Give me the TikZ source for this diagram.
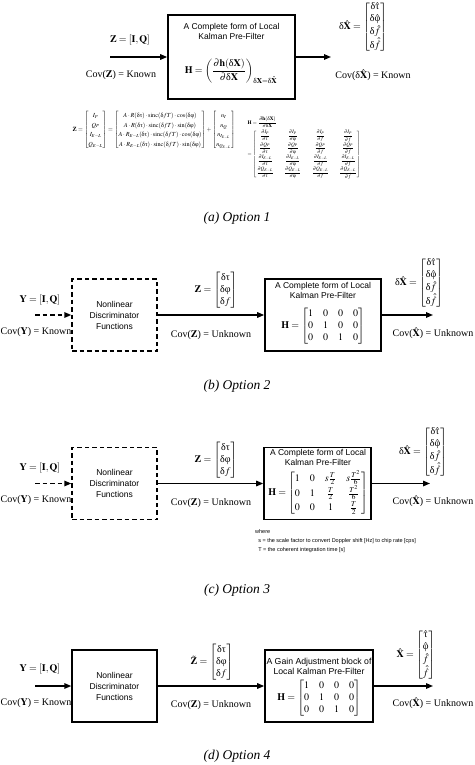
\documentclass[tikz,border=0pt]{standalone}
\usepackage{amsmath}
\usepackage{mathptmx}
\usepackage{fontspec}
\setmainfont{Liberation Serif}
\setsansfont{Liberation Sans}
\usetikzlibrary{positioning,calc,arrows.meta}
\newcommand{\udelta}{\text{δ}}
\newcommand{\utau}{\text{τ}}
\newcommand{\uphi}{\text{φ}}

\begin{document}
\begin{tikzpicture}[x=1pt, y=-1pt, >={Triangle[length=7pt,width=5.5pt]},
    every node/.style={font=\fontsize{10}{12}\selectfont},
    kblock/.style={draw, line width=1.6pt, minimum height=72pt, inner sep=0pt},
    nlblock/.style={draw, line width=1.4pt, minimum width=85pt, minimum height=72pt, align=center, font=\sffamily\fontsize{8.5}{11}\selectfont},
    dnlblock/.style={nlblock, dash pattern=on 4.5pt off 3pt},
    ttl/.style={font=\sffamily\fontsize{8.5}{10}\selectfont, align=center, inner sep=0pt},
    flow/.style={->, line width=1.4pt},
    captxt/.style={font=\itshape\fontsize{13.5}{16}\selectfont},
    tinytxt/.style={font=\fontsize{5.5}{6.5}\selectfont, inner sep=0pt}]
    \useasboundingbox (0,0) rectangle (474,765);

    \node [kblock, minimum width=127pt, minimum height=84pt] (kf1) at (231.5,57) {};
    \node [ttl] (kf1t) at (231.5,31) {A Complete form of Local\\Kalman Pre-Filter};
    \node (kf1h) at (231,71) {$\mathbf{H}=\left(\dfrac{\partial\mathbf{h}(\udelta\mathbf{X})}{\partial\udelta\mathbf{X}}\right)_{\udelta\mathbf{X}=\udelta\hat{\mathbf{X}}}$};
    \coordinate (z1) at (110,57);
    \coordinate (x1) at (331,57);
    \node (z1l) at (130,40) {$\mathbf{Z}=[\mathbf{I},\mathbf{Q}]$};
    \node (z1c) at (121,75) {Cov($\mathbf{Z}$) = Known};
    \node (x1v) at (363,27) {$\udelta\hat{\mathbf{X}}=\begin{bmatrix}\udelta\hat{\utau}\\ \udelta\hat{\uphi}\\ \udelta\hat{f}\\ \udelta\hat{\dot{f}}\end{bmatrix}$};
    \node (x1c) at (373,75) {Cov($\udelta\hat{\mathbf{X}}$) = Known};
    \node [tinytxt, font=\fontsize{6.2}{7}\selectfont] (zeq) at (154,130) {\renewcommand{\arraystretch}{1.4}$\mathbf{Z}=\begin{bmatrix}I_P\\ Q_P\\ I_{E-L}\\ Q_{E-L}\end{bmatrix}=\begin{bmatrix}A\cdot R(\udelta\utau)\cdot\operatorname{sinc}(\udelta fT)\cdot\cos(\udelta\uphi)\\ A\cdot R(\udelta\utau)\cdot\operatorname{sinc}(\udelta fT)\cdot\sin(\udelta\uphi)\\ A\cdot R_{E-L}(\udelta\utau)\cdot\operatorname{sinc}(\udelta fT)\cdot\cos(\udelta\uphi)\\ A\cdot R_{E-L}(\udelta\utau)\cdot\operatorname{sinc}(\udelta fT)\cdot\sin(\udelta\uphi)\end{bmatrix}+\begin{bmatrix}n_I\\ n_Q\\ n_{I_{E-L}}\\ n_{Q_{E-L}}\end{bmatrix}$};
    \node [tinytxt, font=\fontsize{5.2}{6}\selectfont, align=left] (heq) at (304,148) {$\mathbf{H}=\dfrac{\partial\mathbf{h}(\udelta\mathbf{X})}{\partial\udelta\mathbf{X}}$\\[1pt]
        $=\begin{bmatrix}\dfrac{\partial I_P}{\partial\utau} & \dfrac{\partial I_P}{\partial\uphi} & \dfrac{\partial I_P}{\partial f} & \dfrac{\partial I_P}{\partial\dot{f}}\\[2pt]
        \dfrac{\partial Q_P}{\partial\utau} & \dfrac{\partial Q_P}{\partial\uphi} & \dfrac{\partial Q_P}{\partial f} & \dfrac{\partial Q_P}{\partial\dot{f}}\\[2pt]
        \dfrac{\partial I_{E-L}}{\partial\utau} & \dfrac{\partial I_{E-L}}{\partial\uphi} & \dfrac{\partial I_{E-L}}{\partial f} & \dfrac{\partial I_{E-L}}{\partial\dot{f}}\\[2pt]
        \dfrac{\partial Q_{E-L}}{\partial\utau} & \dfrac{\partial Q_{E-L}}{\partial\uphi} & \dfrac{\partial Q_{E-L}}{\partial f} & \dfrac{\partial Q_{E-L}}{\partial\dot{f}}\end{bmatrix}$};
    \node [captxt] (capa) at (237,218) {(a) Option 1};
    \draw [flow] (z1) -- (kf1);
    \draw [flow] (kf1) -- (x1);

    \node [dnlblock] (nl2) at (114.5,315) {Nonlinear\\Discriminator\\Functions};
    \node [kblock, minimum width=116pt] (kf2) at (323,315) {};
    \node [ttl] (kf2t) at (323,290) {A Complete form of Local\\Kalman Pre-Filter};
    \node (kf2h) at (323,326) {$\mathbf{H}=\begin{bmatrix}1&0&0&0\\ 0&1&0&0\\ 0&0&1&0\end{bmatrix}$};
    \coordinate (y2) at (35,315);
    \coordinate (x2) at (433,315);
    \node (y2l) at (40,300) {$\mathbf{Y}=[\mathbf{I},\mathbf{Q}]$};
    \node (y2c) at (36,332) {Cov($\mathbf{Y}$) = Known};
    \node (z2v) at (216,290) {$\mathbf{Z}=\begin{bmatrix}\udelta\utau\\ \udelta\uphi\\ \udelta f\end{bmatrix}$};
    \node (z2c) at (211,335) {Cov($\mathbf{Z}$) = Unknown};
    \node (x2v) at (419,283) {$\udelta\hat{\mathbf{X}}=\begin{bmatrix}\udelta\hat{\utau}\\ \udelta\hat{\uphi}\\ \udelta\hat{f}\\ \udelta\hat{\dot{f}}\end{bmatrix}$};
    \node (x2c) at (433,333) {Cov($\hat{\mathbf{X}}$) = Unknown};
    \node [captxt] (capb) at (237,386) {(b) Option 2};
    \draw [flow, dash pattern=on 4.5pt off 3pt] (y2) -- (nl2);
    \draw [flow] (nl2) -- (kf2);
    \draw [flow] (kf2) -- (x2);

    \node [dnlblock] (nl3) at (114.5,483.5) {Nonlinear\\Discriminator\\Functions};
    \node [kblock, minimum width=107pt] (kf3) at (317.5,483.5) {};
    \node [ttl] (kf3t) at (318,457) {A Complete form of Local\\Kalman Pre-Filter};
    \node (kf3h) at (318,493) {\renewcommand{\arraystretch}{1.2}$\mathbf{H}=\begin{bmatrix}1&0&s\frac{T}{2}&s\frac{T^2}{6}\\ 0&1&\frac{T}{2}&\frac{T^2}{6}\\ 0&0&1&\frac{T}{2}\end{bmatrix}$};
    \coordinate (y3) at (35,483.5);
    \coordinate (x3) at (430,483.5);
    \node (y3l) at (40,468) {$\mathbf{Y}=[\mathbf{I},\mathbf{Q}]$};
    \node (y3c) at (36,500) {Cov($\mathbf{Y}$) = Known};
    \node (z3v) at (216,460) {$\mathbf{Z}=\begin{bmatrix}\udelta\utau\\ \udelta\uphi\\ \udelta f\end{bmatrix}$};
    \node (z3c) at (211,503) {Cov($\mathbf{Z}$) = Unknown};
    \node (x3v) at (423,452) {$\udelta\hat{\mathbf{X}}=\begin{bmatrix}\udelta\hat{\utau}\\ \udelta\hat{\uphi}\\ \udelta\hat{f}\\ \udelta\hat{\dot{f}}\end{bmatrix}$};
    \node (x3c) at (433,501) {Cov($\hat{\mathbf{X}}$) = Unknown};
    \node [tinytxt, font=\sffamily\fontsize{5.5}{9}\selectfont, align=left, anchor=north west] (wh3) at (255,529) {where\\
        \ \ s = the scale factor to convert Doppler shift [Hz] to chip rate [cps]\\
        \ \ T = the coherent integration time [s]};
    \node [captxt] (capc) at (237,590) {(c) Option 3};
    \draw [flow, dash pattern=on 4.5pt off 3pt] (y3) -- (nl3);
    \draw [flow] (nl3) -- (kf3);
    \draw [flow] (kf3) -- (x3);

    \node [nlblock] (nl4) at (114.5,686) {Nonlinear\\Discriminator\\Functions};
    \node [kblock, minimum width=108pt] (kf4) at (319,686) {};
    \node [ttl, font=\sffamily\fontsize{8.7}{10}\selectfont] (kf4t) at (319,666) {A Gain Adjustment block of\\Local Kalman Pre-Filter};
    \node (kf4h) at (319,698) {$\mathbf{H}=\begin{bmatrix}1&0&0&0\\ 0&1&0&0\\ 0&0&1&0\end{bmatrix}$};
    \coordinate (y4) at (35,686);
    \coordinate (x4) at (433,686);
    \node (y4l) at (40,669) {$\mathbf{Y}=[\mathbf{I},\mathbf{Q}]$};
    \node (y4c) at (36,703) {Cov($\mathbf{Y}$) = Known};
    \node (z4v) at (212,662) {$\tilde{\mathbf{Z}}=\begin{bmatrix}\udelta\utau\\ \udelta\uphi\\ \udelta f\end{bmatrix}$};
    \node (z4c) at (211,705) {Cov($\mathbf{Z}$) = Unknown};
    \node (x4v) at (416,655) {$\hat{\mathbf{X}}=\begin{bmatrix}\hat{\utau}\\ \hat{\uphi}\\ \hat{f}\\ \hat{\dot{f}}\end{bmatrix}$};
    \node (x4c) at (433,703) {Cov($\hat{\mathbf{X}}$) = Unknown};
    \node [captxt] (capd) at (237,756) {(d) Option 4};
    \draw [flow] (y4) -- (nl4);
    \draw [flow] (nl4) -- (kf4);
    \draw [flow] (kf4) -- (x4);
\end{tikzpicture}
\end{document}
